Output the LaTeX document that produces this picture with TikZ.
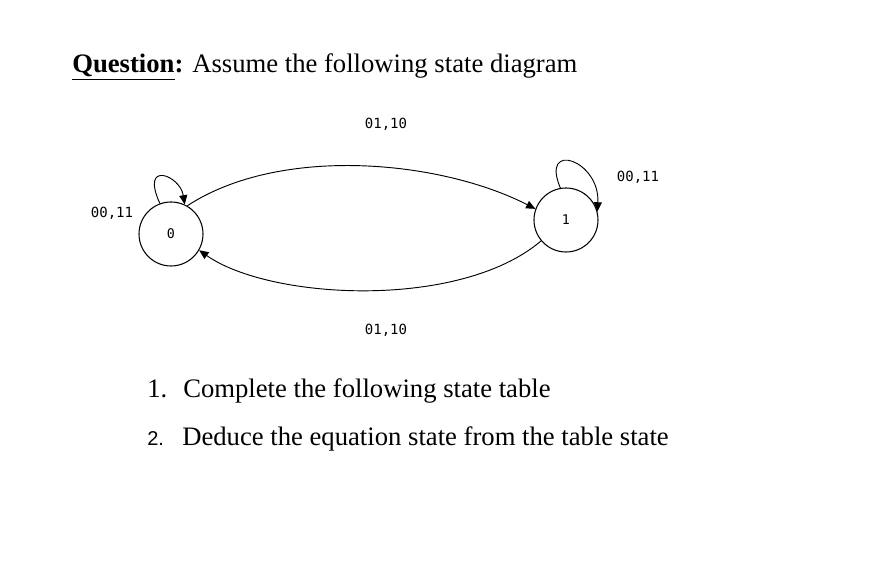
\documentclass[tikz,border=0pt]{standalone}
\usepackage{fontspec}
\setmainfont{Liberation Serif}
\newfontfamily\lblfont{DejaVu Sans Mono}
\newfontfamily\numfont{Liberation Sans}
\usetikzlibrary{arrows.meta}
\begin{document}
\begin{tikzpicture}[x=0.75pt,y=-0.75pt,
  st/.style={circle,draw,line width=0.8pt,minimum size=64*0.75pt,inner sep=0pt,font=\lblfont\fontsize{10}{12}\selectfont},
  lbl/.style={font=\lblfont\fontsize{10.5}{12}\selectfont},
  tr/.style={line width=0.7pt,-{Triangle[length=7pt,width=6pt]}},
  txt/.style={anchor=base west,font=\fontsize{20}{24}\selectfont,inner sep=0pt}]
\useasboundingbox[fill=white] (0,0) rectangle (894,566);
\node[txt] (title) at (72,73) {\textbf{\underline{Question}:} Assume the following state diagram};
\node[st] (s0) at (171,234) {0};
\node[st] (s1) at (566,220) {1};
\draw[tr] (s0.110) .. controls (140,160) and (180,175) .. (s0.65);
\draw[tr] (s1.100) .. controls (540,140) and (600,160) .. (s1.15);
\draw[tr] (s0.60) .. controls (280,145) and (440,160) .. (s1.160);
\draw[tr] (s1.220) .. controls (460,310) and (270,300) .. (s0.-30);
\node[lbl] (l1) at (386,124) {01,10};
\node[lbl] (l2) at (638,177) {00,11};
\node[lbl] (l3) at (112,213) {00,11};
\node[lbl] (l4) at (386,330) {01,10};
\node[txt] (i1) at (147,398) {1.\hspace{12pt}Complete the following state table};
\node[txt] (i2n) at (147,446) {\numfont\fontsize{15}{18}\selectfont 2.};
\node[txt] (i2) at (182,446) {Deduce the equation state from the table state};
\end{tikzpicture}
\end{document}
